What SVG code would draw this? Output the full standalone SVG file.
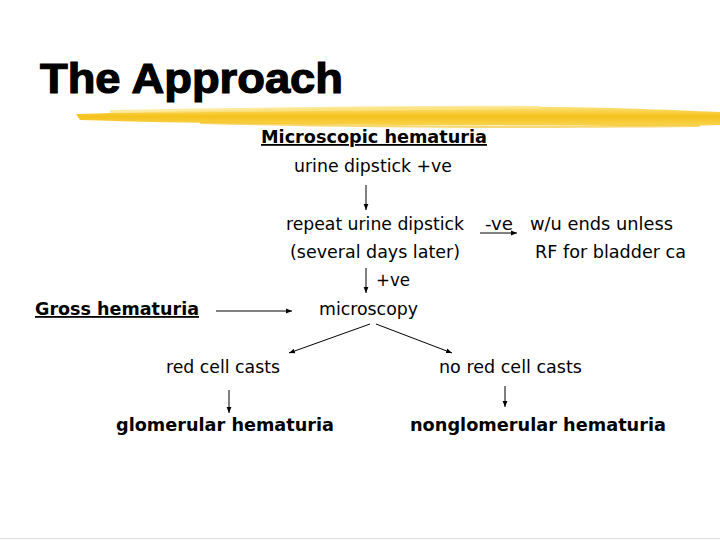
<svg xmlns="http://www.w3.org/2000/svg" width="720" height="540" viewBox="0 0 720 540">
<defs>
<style>
.t{font-family:"DejaVu Sans",Verdana,sans-serif;font-size:18px;fill:#000}
.b{font-weight:bold}
.u{text-decoration:underline}
.c{stroke:#000;stroke-width:1;fill:none}
</style>
<marker id="ah" viewBox="0 0 10 10" refX="10" refY="5" markerWidth="6" markerHeight="6" orient="auto" markerUnits="userSpaceOnUse">
<path d="M0,1 L10,5 L0,9 Z" fill="#000"/>
</marker>
<linearGradient id="yg" x1="0" y1="0" x2="0" y2="1">
<stop offset="0" stop-color="#FBE27A"/>
<stop offset="0.5" stop-color="#F5C21B"/>
<stop offset="1" stop-color="#F8D451"/>
</linearGradient>
</defs>
<rect width="720" height="540" fill="#fff"/>
<g id="title">
<text x="40" y="93" font-family="Liberation Sans,Arial,sans-serif" font-weight="bold" font-size="42" stroke="#000" stroke-width="1.2" textLength="303" lengthAdjust="spacingAndGlyphs">The Approach</text>
</g>
<g id="brush">
<path d="M76,114 C200,110 400,106 560,107 C640,108 690,111 720,112 L720,125 C650,127 560,125 450,125 C300,125 180,123 80,120 Z" fill="url(#yg)"/>
<path d="M110,110 C250,108 400,105 540,106 L540,109 C400,110 250,112 110,113 Z" fill="#FBE58A" opacity="0.8"/>
<path d="M200,122 C350,125 500,127 700,125 L700,127 C500,129 350,128 200,124 Z" fill="#F3BE18" opacity="0.6"/>
</g>
<g id="connectors">
<line class="c" x1="366" y1="185" x2="366" y2="210" marker-end="url(#ah)"/>
<line class="c" x1="480" y1="233" x2="517" y2="233" marker-end="url(#ah)"/>
<line class="c" x1="366" y1="268" x2="366" y2="293" marker-end="url(#ah)"/>
<line class="c" x1="216" y1="311" x2="292" y2="311" marker-end="url(#ah)"/>
<line class="c" x1="370" y1="324" x2="289" y2="353" marker-end="url(#ah)"/>
<line class="c" x1="376" y1="324" x2="452" y2="353" marker-end="url(#ah)"/>
<line class="c" x1="229" y1="390" x2="229" y2="413" marker-end="url(#ah)"/>
<line class="c" x1="505" y1="386" x2="505" y2="407" marker-end="url(#ah)"/>
</g>
<g id="n-micro"><text class="t b u" x="261" y="143" textLength="226" lengthAdjust="spacingAndGlyphs">Microscopic hematuria</text></g>
<g id="n-dip"><text class="t" x="294" y="172" textLength="158" lengthAdjust="spacingAndGlyphs">urine dipstick +ve</text></g>
<g id="n-repeat">
<text class="t" x="286" y="230" textLength="178" lengthAdjust="spacingAndGlyphs">repeat urine dipstick</text>
<text class="t" x="290" y="258" textLength="170" lengthAdjust="spacingAndGlyphs">(several days later)</text>
</g>
<g id="l-neg"><text class="t" x="485" y="230" textLength="28" lengthAdjust="spacingAndGlyphs">-ve</text></g>
<g id="n-wu">
<text class="t" x="530" y="230" textLength="143" lengthAdjust="spacingAndGlyphs">w/u ends unless</text>
<text class="t" x="535" y="258" textLength="151" lengthAdjust="spacingAndGlyphs">RF for bladder ca</text>
</g>
<g id="l-pos"><text class="t" x="376" y="286" textLength="34" lengthAdjust="spacingAndGlyphs">+ve</text></g>
<g id="n-gross"><text class="t b u" x="35" y="315" textLength="164" lengthAdjust="spacingAndGlyphs">Gross hematuria</text></g>
<g id="n-microscopy"><text class="t" x="319" y="315" textLength="99" lengthAdjust="spacingAndGlyphs">microscopy</text></g>
<g id="n-rcc"><text class="t" x="166" y="373" textLength="114" lengthAdjust="spacingAndGlyphs">red cell casts</text></g>
<g id="n-nrcc"><text class="t" x="439" y="373" textLength="143" lengthAdjust="spacingAndGlyphs">no red cell casts</text></g>
<g id="n-glom"><text class="t b" x="116" y="431" textLength="218" lengthAdjust="spacingAndGlyphs">glomerular hematuria</text></g>
<g id="n-nonglom"><text class="t b" x="410" y="431" textLength="256" lengthAdjust="spacingAndGlyphs">nonglomerular hematuria</text></g>
<line x1="0" y1="538.5" x2="720" y2="538.5" stroke="#ddd" stroke-width="1"/>
</svg>
